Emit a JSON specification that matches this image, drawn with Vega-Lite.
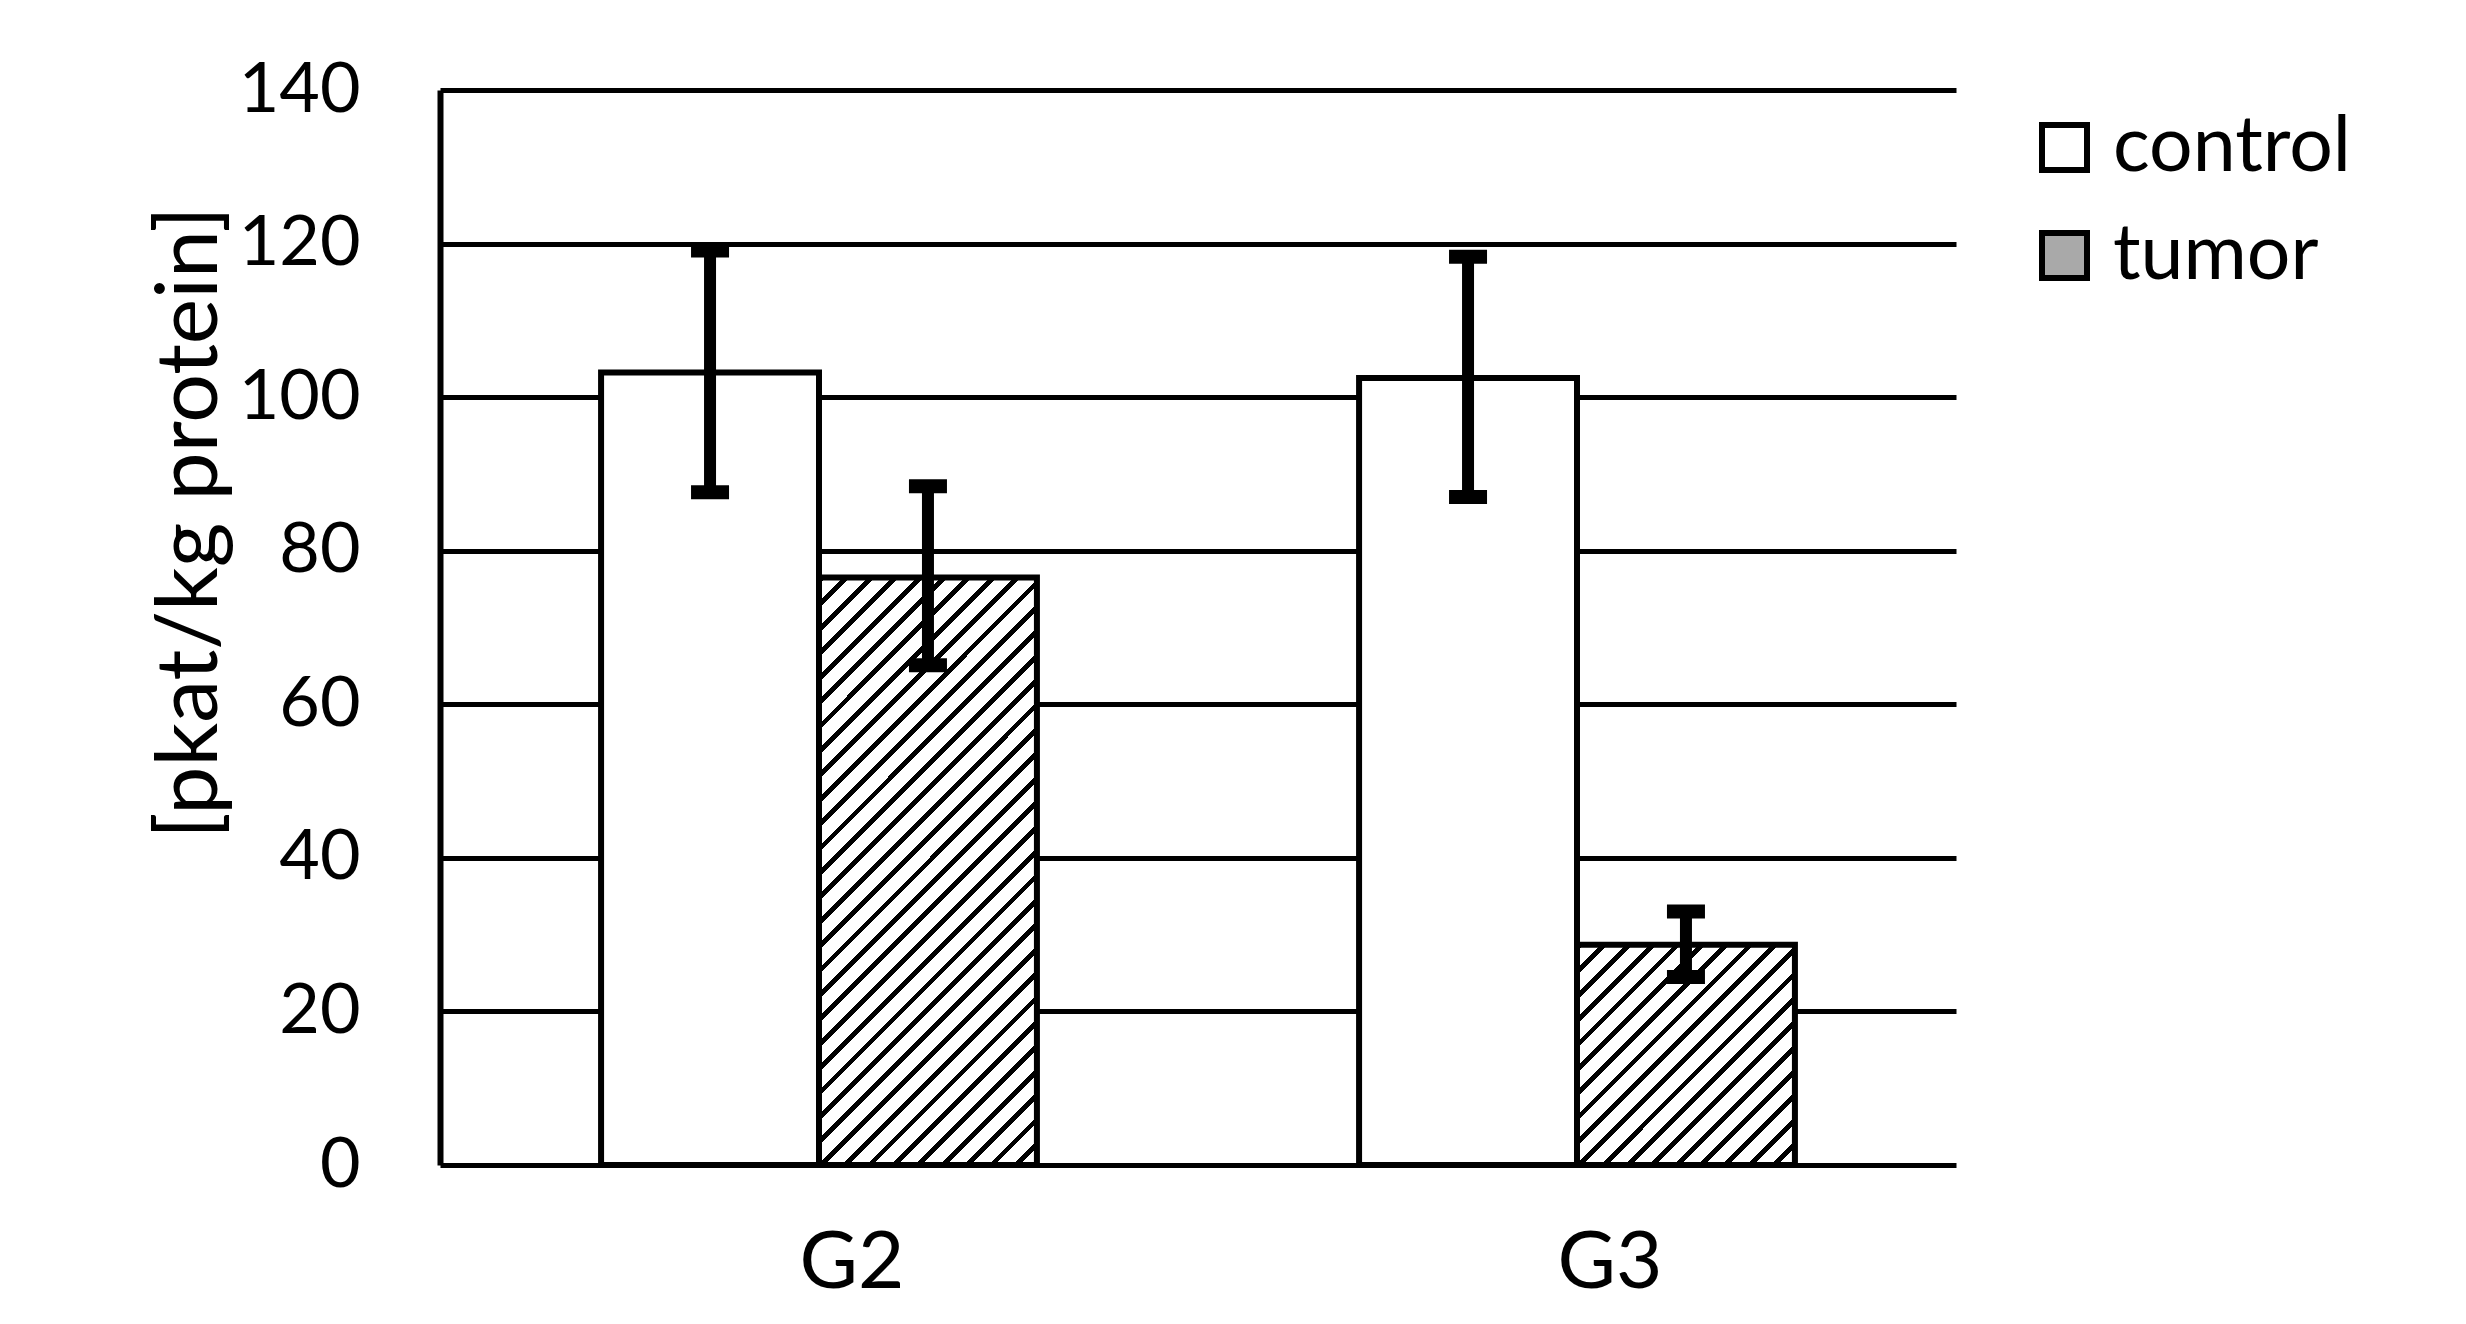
{
  "$schema": "https://vega.github.io/schema/vega-lite/v6.json",
  "autosize": {"type": "none"},
  "padding": {"left": 440, "top": 90, "right": 510, "bottom": 159},
  "width": 1516,
  "height": 1075,
  "background": "white",
  "data": {
    "values": [
      {"g": "G2", "group": "control", "mean": 103.2, "lo": 87.6, "hi": 119.1},
      {"g": "G2", "group": "tumor", "mean": 76.5, "lo": 65.1, "hi": 88.4},
      {"g": "G3", "group": "control", "mean": 102.5, "lo": 87.0, "hi": 118.3},
      {"g": "G3", "group": "tumor", "mean": 28.7, "lo": 24.5, "hi": 33.0}
    ]
  },
  "encoding": {
    "x": {
      "field": "g",
      "type": "nominal",
      "scale": {"paddingInner": 0.425, "paddingOuter": 0.2125},
      "axis": {
        "title": null,
        "domain": false,
        "ticks": false,
        "tickSize": 0,
        "labelAngle": 0,
        "labelFontSize": 80,
        "labelColor": "black",
        "labelPadding": 59,
        "labelOffset": 33
      }
    },
    "xOffset": {
      "field": "group",
      "type": "nominal",
      "scale": {"domain": ["control", "tumor"], "paddingInner": 0, "paddingOuter": 0}
    }
  },
  "layer": [
    {
      "mark": {"type": "bar", "stroke": "black", "strokeWidth": 6},
      "encoding": {
        "y": {
          "field": "mean",
          "type": "quantitative",
          "title": "[pkat/kg protein]",
          "scale": {"domain": [0, 140], "nice": false},
          "axis": {
            "values": [0, 20, 40, 60, 80, 100, 120, 140],
            "grid": true,
            "gridColor": "black",
            "gridWidth": 5,
            "gridOpacity": 1,
            "domainColor": "black",
            "domainWidth": 6,
            "ticks": false,
            "tickSize": 0,
            "labelFontSize": 70,
            "labelColor": "black",
            "labelPadding": 80,
            "titleFontSize": 86,
            "titleFontWeight": "normal",
            "titleColor": "black",
            "titleAngle": 270,
            "titleAlign": "center",
            "titleBaseline": "middle",
            "titleX": -250,
            "titleY": 432
          }
        },
        "fill": {
          "field": "group",
          "type": "nominal",
          "scale": {"domain": ["control", "tumor"], "range": ["white", "#a9a9a9"]},
          "legend": {
            "title": null,
            "orient": "none",
            "legendX": 1586,
            "legendY": 19,
            "padding": 0,
            "symbolType": "square",
            "symbolSize": 2025,
            "symbolStrokeWidth": 6,
            "labelFontSize": 77,
            "labelColor": "black",
            "labelOffset": 10,
            "labelLimit": 0,
            "rowPadding": 30
          },
          "condition": [
            {
              "test": "datum.g === 'G2' && datum.group === 'tumor'",
              "value": {
                "gradient": "linear",
                "x1": 0, "y1": 0, "x2": 0.4473, "y2": 1.2051,
                "stops": [
                  {"offset": 0, "color": "#000"}, {"offset": 0.0085, "color": "#000"}, {"offset": 0.0085, "color": "#fff"}, {"offset": 0.0303, "color": "#fff"},
                  {"offset": 0.0303, "color": "#000"}, {"offset": 0.0388, "color": "#000"}, {"offset": 0.0388, "color": "#fff"}, {"offset": 0.0606, "color": "#fff"},
                  {"offset": 0.0606, "color": "#000"}, {"offset": 0.0691, "color": "#000"}, {"offset": 0.0691, "color": "#fff"}, {"offset": 0.0909, "color": "#fff"},
                  {"offset": 0.0909, "color": "#000"}, {"offset": 0.0994, "color": "#000"}, {"offset": 0.0994, "color": "#fff"}, {"offset": 0.1212, "color": "#fff"},
                  {"offset": 0.1212, "color": "#000"}, {"offset": 0.1297, "color": "#000"}, {"offset": 0.1297, "color": "#fff"}, {"offset": 0.1515, "color": "#fff"},
                  {"offset": 0.1515, "color": "#000"}, {"offset": 0.1600, "color": "#000"}, {"offset": 0.1600, "color": "#fff"}, {"offset": 0.1818, "color": "#fff"},
                  {"offset": 0.1818, "color": "#000"}, {"offset": 0.1903, "color": "#000"}, {"offset": 0.1903, "color": "#fff"}, {"offset": 0.2121, "color": "#fff"},
                  {"offset": 0.2121, "color": "#000"}, {"offset": 0.2206, "color": "#000"}, {"offset": 0.2206, "color": "#fff"}, {"offset": 0.2424, "color": "#fff"},
                  {"offset": 0.2424, "color": "#000"}, {"offset": 0.2509, "color": "#000"}, {"offset": 0.2509, "color": "#fff"}, {"offset": 0.2727, "color": "#fff"},
                  {"offset": 0.2727, "color": "#000"}, {"offset": 0.2812, "color": "#000"}, {"offset": 0.2812, "color": "#fff"}, {"offset": 0.3030, "color": "#fff"},
                  {"offset": 0.3030, "color": "#000"}, {"offset": 0.3115, "color": "#000"}, {"offset": 0.3115, "color": "#fff"}, {"offset": 0.3333, "color": "#fff"},
                  {"offset": 0.3333, "color": "#000"}, {"offset": 0.3418, "color": "#000"}, {"offset": 0.3418, "color": "#fff"}, {"offset": 0.3636, "color": "#fff"},
                  {"offset": 0.3636, "color": "#000"}, {"offset": 0.3721, "color": "#000"}, {"offset": 0.3721, "color": "#fff"}, {"offset": 0.3939, "color": "#fff"},
                  {"offset": 0.3939, "color": "#000"}, {"offset": 0.4024, "color": "#000"}, {"offset": 0.4024, "color": "#fff"}, {"offset": 0.4242, "color": "#fff"},
                  {"offset": 0.4242, "color": "#000"}, {"offset": 0.4327, "color": "#000"}, {"offset": 0.4327, "color": "#fff"}, {"offset": 0.4545, "color": "#fff"},
                  {"offset": 0.4545, "color": "#000"}, {"offset": 0.4630, "color": "#000"}, {"offset": 0.4630, "color": "#fff"}, {"offset": 0.4848, "color": "#fff"},
                  {"offset": 0.4848, "color": "#000"}, {"offset": 0.4933, "color": "#000"}, {"offset": 0.4933, "color": "#fff"}, {"offset": 0.5152, "color": "#fff"},
                  {"offset": 0.5152, "color": "#000"}, {"offset": 0.5237, "color": "#000"}, {"offset": 0.5237, "color": "#fff"}, {"offset": 0.5455, "color": "#fff"},
                  {"offset": 0.5455, "color": "#000"}, {"offset": 0.5540, "color": "#000"}, {"offset": 0.5540, "color": "#fff"}, {"offset": 0.5758, "color": "#fff"},
                  {"offset": 0.5758, "color": "#000"}, {"offset": 0.5843, "color": "#000"}, {"offset": 0.5843, "color": "#fff"}, {"offset": 0.6061, "color": "#fff"},
                  {"offset": 0.6061, "color": "#000"}, {"offset": 0.6146, "color": "#000"}, {"offset": 0.6146, "color": "#fff"}, {"offset": 0.6364, "color": "#fff"},
                  {"offset": 0.6364, "color": "#000"}, {"offset": 0.6449, "color": "#000"}, {"offset": 0.6449, "color": "#fff"}, {"offset": 0.6667, "color": "#fff"},
                  {"offset": 0.6667, "color": "#000"}, {"offset": 0.6752, "color": "#000"}, {"offset": 0.6752, "color": "#fff"}, {"offset": 0.6970, "color": "#fff"},
                  {"offset": 0.6970, "color": "#000"}, {"offset": 0.7055, "color": "#000"}, {"offset": 0.7055, "color": "#fff"}, {"offset": 0.7273, "color": "#fff"},
                  {"offset": 0.7273, "color": "#000"}, {"offset": 0.7358, "color": "#000"}, {"offset": 0.7358, "color": "#fff"}, {"offset": 0.7576, "color": "#fff"},
                  {"offset": 0.7576, "color": "#000"}, {"offset": 0.7661, "color": "#000"}, {"offset": 0.7661, "color": "#fff"}, {"offset": 0.7879, "color": "#fff"},
                  {"offset": 0.7879, "color": "#000"}, {"offset": 0.7964, "color": "#000"}, {"offset": 0.7964, "color": "#fff"}, {"offset": 0.8182, "color": "#fff"},
                  {"offset": 0.8182, "color": "#000"}, {"offset": 0.8267, "color": "#000"}, {"offset": 0.8267, "color": "#fff"}, {"offset": 0.8485, "color": "#fff"},
                  {"offset": 0.8485, "color": "#000"}, {"offset": 0.8570, "color": "#000"}, {"offset": 0.8570, "color": "#fff"}, {"offset": 0.8788, "color": "#fff"},
                  {"offset": 0.8788, "color": "#000"}, {"offset": 0.8873, "color": "#000"}, {"offset": 0.8873, "color": "#fff"}, {"offset": 0.9091, "color": "#fff"},
                  {"offset": 0.9091, "color": "#000"}, {"offset": 0.9176, "color": "#000"}, {"offset": 0.9176, "color": "#fff"}, {"offset": 0.9394, "color": "#fff"},
                  {"offset": 0.9394, "color": "#000"}, {"offset": 0.9479, "color": "#000"}, {"offset": 0.9479, "color": "#fff"}, {"offset": 0.9697, "color": "#fff"},
                  {"offset": 0.9697, "color": "#000"}, {"offset": 0.9782, "color": "#000"}, {"offset": 0.9782, "color": "#fff"}, {"offset": 1, "color": "#fff"}
                ]
              }
            },
            {
              "test": "datum.g === 'G3' && datum.group === 'tumor'",
              "value": {
                "gradient": "linear",
                "x1": 0, "y1": 0, "x2": 0.9945, "y2": 1.0055,
                "stops": [
                  {"offset": 0, "color": "#000"}, {"offset": 0.0156, "color": "#000"}, {"offset": 0.0156, "color": "#fff"}, {"offset": 0.0556, "color": "#fff"},
                  {"offset": 0.0556, "color": "#000"}, {"offset": 0.0712, "color": "#000"}, {"offset": 0.0712, "color": "#fff"}, {"offset": 0.1111, "color": "#fff"},
                  {"offset": 0.1111, "color": "#000"}, {"offset": 0.1267, "color": "#000"}, {"offset": 0.1267, "color": "#fff"}, {"offset": 0.1667, "color": "#fff"},
                  {"offset": 0.1667, "color": "#000"}, {"offset": 0.1823, "color": "#000"}, {"offset": 0.1823, "color": "#fff"}, {"offset": 0.2222, "color": "#fff"},
                  {"offset": 0.2222, "color": "#000"}, {"offset": 0.2378, "color": "#000"}, {"offset": 0.2378, "color": "#fff"}, {"offset": 0.2778, "color": "#fff"},
                  {"offset": 0.2778, "color": "#000"}, {"offset": 0.2934, "color": "#000"}, {"offset": 0.2934, "color": "#fff"}, {"offset": 0.3333, "color": "#fff"},
                  {"offset": 0.3333, "color": "#000"}, {"offset": 0.3489, "color": "#000"}, {"offset": 0.3489, "color": "#fff"}, {"offset": 0.3889, "color": "#fff"},
                  {"offset": 0.3889, "color": "#000"}, {"offset": 0.4045, "color": "#000"}, {"offset": 0.4045, "color": "#fff"}, {"offset": 0.4444, "color": "#fff"},
                  {"offset": 0.4444, "color": "#000"}, {"offset": 0.4600, "color": "#000"}, {"offset": 0.4600, "color": "#fff"}, {"offset": 0.5000, "color": "#fff"},
                  {"offset": 0.5000, "color": "#000"}, {"offset": 0.5156, "color": "#000"}, {"offset": 0.5156, "color": "#fff"}, {"offset": 0.5556, "color": "#fff"},
                  {"offset": 0.5556, "color": "#000"}, {"offset": 0.5712, "color": "#000"}, {"offset": 0.5712, "color": "#fff"}, {"offset": 0.6111, "color": "#fff"},
                  {"offset": 0.6111, "color": "#000"}, {"offset": 0.6267, "color": "#000"}, {"offset": 0.6267, "color": "#fff"}, {"offset": 0.6667, "color": "#fff"},
                  {"offset": 0.6667, "color": "#000"}, {"offset": 0.6823, "color": "#000"}, {"offset": 0.6823, "color": "#fff"}, {"offset": 0.7222, "color": "#fff"},
                  {"offset": 0.7222, "color": "#000"}, {"offset": 0.7378, "color": "#000"}, {"offset": 0.7378, "color": "#fff"}, {"offset": 0.7778, "color": "#fff"},
                  {"offset": 0.7778, "color": "#000"}, {"offset": 0.7934, "color": "#000"}, {"offset": 0.7934, "color": "#fff"}, {"offset": 0.8333, "color": "#fff"},
                  {"offset": 0.8333, "color": "#000"}, {"offset": 0.8489, "color": "#000"}, {"offset": 0.8489, "color": "#fff"}, {"offset": 0.8889, "color": "#fff"},
                  {"offset": 0.8889, "color": "#000"}, {"offset": 0.9045, "color": "#000"}, {"offset": 0.9045, "color": "#fff"}, {"offset": 0.9444, "color": "#fff"},
                  {"offset": 0.9444, "color": "#000"}, {"offset": 0.9600, "color": "#000"}, {"offset": 0.9600, "color": "#fff"}, {"offset": 1, "color": "#fff"}
                ]
              }
            }
          ]
        }
      }
    },
    {
      "mark": {"type": "rule", "color": "black", "strokeWidth": 12},
      "encoding": {
        "y": {"field": "lo", "type": "quantitative", "title": "[pkat/kg protein]"},
        "y2": {"field": "hi"}
      }
    },
    {
      "mark": {"type": "tick", "color": "black", "size": 38, "thickness": 14, "opacity": 1},
      "encoding": {
        "y": {"field": "lo", "type": "quantitative", "title": "[pkat/kg protein]"}
      }
    },
    {
      "mark": {"type": "tick", "color": "black", "size": 38, "thickness": 14, "opacity": 1},
      "encoding": {
        "y": {"field": "hi", "type": "quantitative", "title": "[pkat/kg protein]"}
      }
    }
  ],
  "config": {
    "font": "Lato",
    "view": {"stroke": null}
  }
}
